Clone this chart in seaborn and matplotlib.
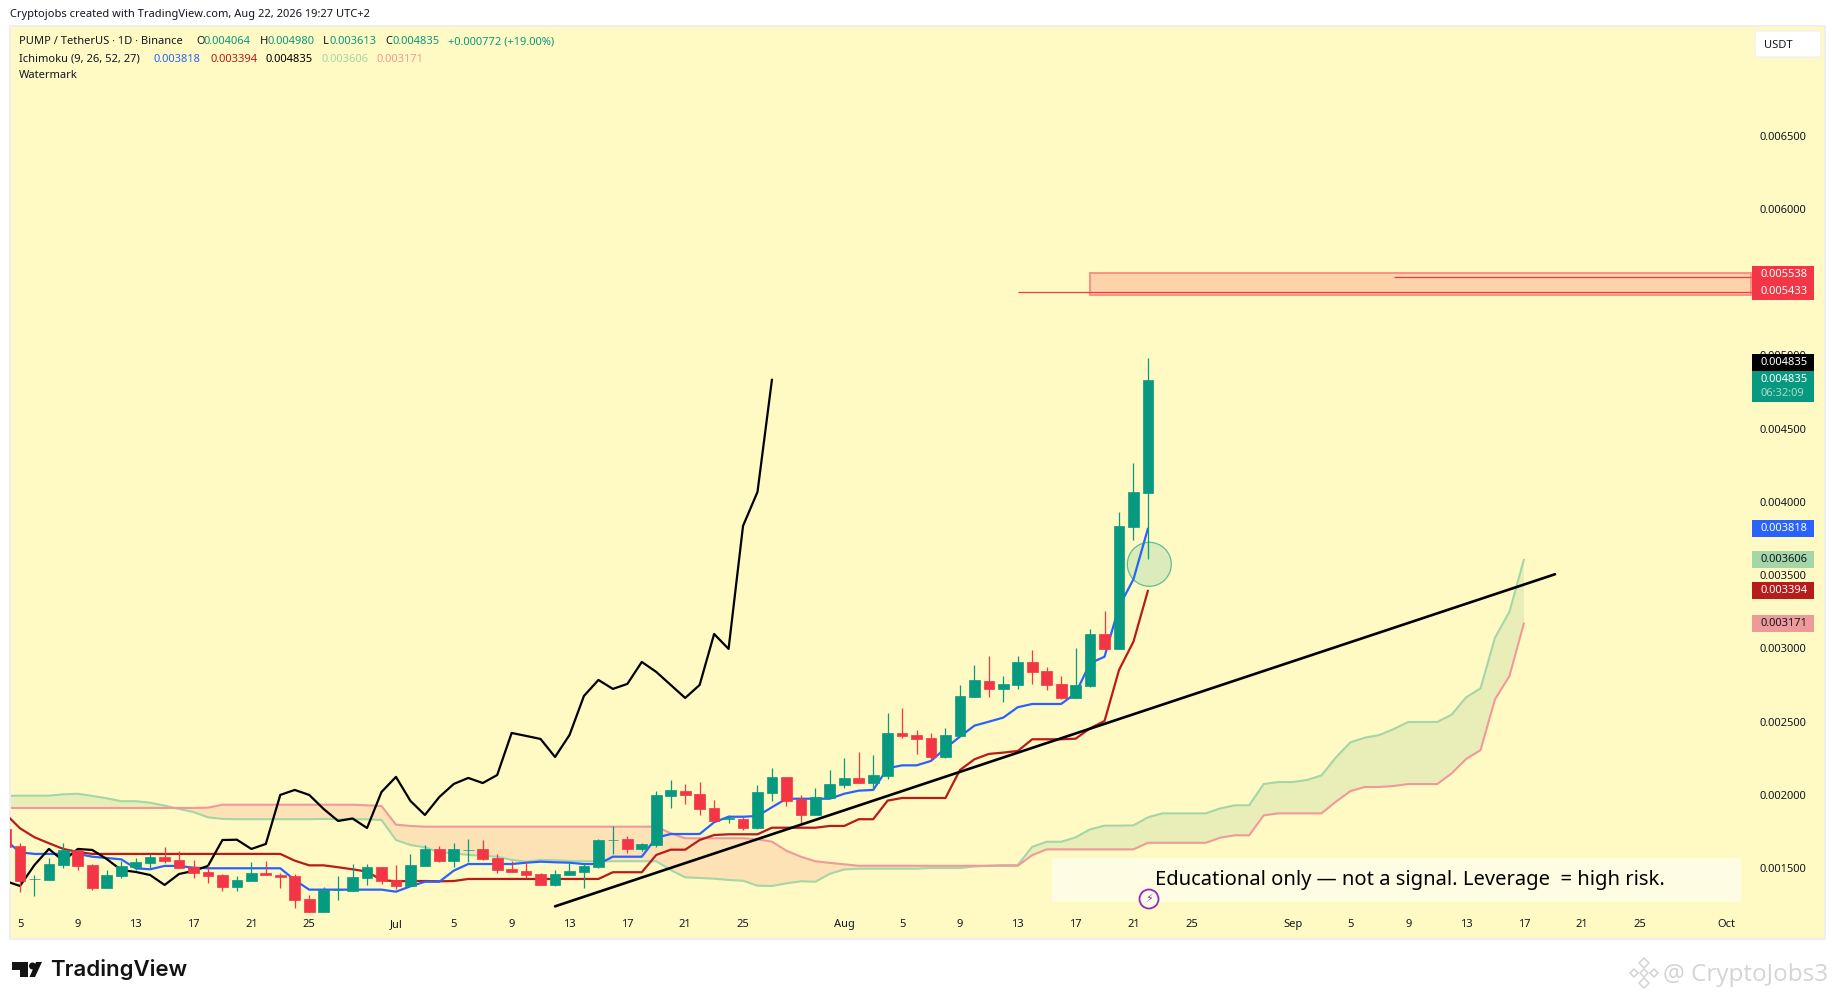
import numpy as np
import pandas as pd
import seaborn as sns
import matplotlib.pyplot as plt
import matplotlib.transforms as mtransforms
from matplotlib.patches import Rectangle, Circle, Polygon, FancyBboxPatch

# --- values (day 0 = Jun 5) ---
opens = [.001766, .00165, .001423, .001418, .00152, .001623, .00152, .001363, .001445, .001507,
         .001534, .001575, .001555, .001507, .001473, .001452, .00137, .001411, .001466, .001452,
         .001445, .001288, .0012, .00135, .001343, .001432, .001507, .001418, .001377, .001514,
         .00163, .001548, .00162, .00163, .001568, .001493, .00148, .001459, .001384, .001452,
         .001473, .001507, .00169, .001698, .00163, .001657, .001992, .002026, .002005, .00191,
         .001835, .001835, .001773, .002012, .002122, .001971, .001862, .001978, .002067, .002115,
         .00208, .002128, .002422, .002408, .002388, .002258, .002402, .002668, .002777, .002723,
         .00275, .002907, .002846, .002757, .002661, .002743, .003098, .002996, .003829, .004064]
highs = [.00177, .001669, .001452, .001568, .001669, .001623, .001527, .001486, .00155, .001568,
         .001596, .001643, .001616, .001555, .00152, .001459, .001445, .001541, .001548, .001466,
         .001456, .001316, .00137, .001445, .001527, .001527, .001507, .00152, .001596, .001657,
         .00165, .001671, .001698, .001691, .001596, .001548, .001541, .001466, .001486, .001534,
         .001534, .001698, .001787, .001719, .001671, .002026, .002101, .002074, .002087, .001964,
         .001862, .001845, .002067, .002183, .002122, .001999, .002046, .002169, .002251, .002292,
         .002272, .002559, .002593, .002443, .002422, .002456, .00275, .002887, .002948, .002811,
         .002948, .002989, .002873, .002811, .003003, .003132, .003255, .003931, .004266, .00498]
lows = [.00164, .001338, .001311, .001418, .001502, .001486, .00135, .001363, .001432, .001486,
        .0015, .001534, .0015, .001432, .001398, .001343, .001343, .001411, .001452, .001363,
        .001227, .0012, .0012, .001281, .001343, .001384, .00139, .001357, .001377, .001514,
        .001541, .001507, .001541, .001555, .001466, .00147, .001432, .001384, .001377, .001452,
        .001363, .0015, .001596, .001602, .001616, .001643, .00191, .001937, .001862, .001821,
        .001807, .00176, .001766, .001958, .001923, .0018, .001862, .001978, .002046, .00208,
        .002033, .002108, .002388, .002279, .00223, .002251, .002402, .002668, .002668, .002634,
        .002723, .002757, .002716, .002654, .002661, .002736, .002996, .002996, .00374, .003613]
closes = [.001645, .001413, .001426, .001527, .001623, .001514, .001363, .001452, .001514, .001541,
          .001575, .001548, .0015, .001466, .001445, .00137, .001418, .001466, .001452, .001439,
          .001281, .0012, .00135, .001353, .001439, .001507, .001411, .001377, .00152, .00163,
          .001548, .00163, .001623, .001561, .001486, .001473, .001452, .001384, .001459, .00148,
          .001514, .001691, .001693, .00163, .001664, .001999, .002033, .001999, .001903, .001821,
          .001838, .001773, .002019, .002122, .001958, .001862, .001985, .002074, .002115, .00208,
          .002135, .002422, .002402, .002381, .002258, .002408, .002675, .002784, .002723, .002757,
          .002907, .002839, .00275, .002661, .00275, .003098, .002996, .003836, .004068, .004835]

tenkan = [.001691, .001607, .001596, .001596, .001596, .001596, .001577, .001568, .001559, .001498,
          .001491, .001514, .001514, .001502, .001498, .001498, .001498, .001498, .001498, .001498,
          .001418, .001352, .001352, .001352, .001352, .001352, .001352, .001338, .001375, .001406,
          .001406, .001482, .001527, .001527, .001527, .001527, .001536, .001543, .001539, .001536,
          .001527, .001527, .001577, .001577, .001577, .001707, .001732, .001732, .001732, .001812,
          .00185, .00185, .001855, .001915, .001973, .001973, .001973, .001973, .002007, .002028,
          .002033, .002181, .002201, .002201, .002231, .002318, .002397, .002472, .002499, .002527,
          .002598, .00262, .00262, .00262, .002693, .002898, .002943, .003285, .003472, .003818]
kijun = [.001869, .001771, .00171, .001669, .00163, .001609, .001596, .001596, .001596, .001596,
         .001596, .001596, .001596, .001596, .001596, .001596, .001596, .001596, .001596, .001596,
         .00155, .001518, .001518, .001505, .001491, .001475, .001418, .001409, .001411, .001411,
         .001409, .001411, .001425, .001425, .001425, .001425, .001425, .001425, .001425, .001425,
         .001425, .001425, .001471, .001471, .001471, .001589, .001625, .001625, .001691, .001725,
         .00173, .00173, .00173, .001775, .001775, .001775, .001775, .001787, .001787, .001833,
         .001833, .00196, .001978, .001978, .001978, .001978, .002169, .002242, .002279, .002288,
         .002299, .002379, .002379, .002379, .002383, .002454, .002504, .002852, .003046, .003394]

senkou_a = [.001992, .001994, .001994, .001994, .002003, .002007, .001992, .001976, .001956, .001956,
            .001946, .001926, .001903, .001882, .001846, .001835, .001833, .001833, .001833, .001833,
            .001833, .001833, .001835, .001833, .001833, .001833, .001828, .001691, .001657, .001641,
            .001607, .0016, .001589, .001584, .001577, .001555, .001543, .001555, .001553, .001548,
            .001546, .001546, .001546, .001546, .001546, .001546, .001486, .001436, .001432, .001427,
            .001418, .001413, .001379, .001377, .001395, .001409, .001406, .00146, .00149, .001495,
            .001495, .001495, .001495, .001495, .0015, .0015, .0015, .00151, .001515, .00152,
            .00152, .001645, .001679, .001679, .001709, .001764, .001789, .001789, .001791, .001846,
            .001873, .001873, .001873, .001873, .001907, .001928, .001928, .002073, .002087, .002087,
            .002101, .002132, .002255, .002358, .00239, .002408, .002449, .002497, .002497, .002497,
            .002547, .002665, .002727, .003073, .00325, .003606]
senkou_b = [.00191, .00191, .00191, .00191, .00191, .00191, .00191, .00191, .00191, .00191,
            .00191, .00191, .00191, .00191, .001912, .001932, .001932, .001932, .001932, .001932,
            .001932, .001932, .001932, .001932, .001932, .001928, .001923, .001796, .001787, .001782,
            .001782, .001782, .001782, .001782, .001782, .001782, .001782, .001782, .001782, .001782,
            .001782, .001782, .001782, .001782, .001782, .001782, .001737, .001703, .001703, .001703,
            .001703, .001703, .001696, .00168, .001618, .001577, .001546, .001535, .001525, .001515,
            .001515, .001515, .001515, .001515, .001515, .001515, .001515, .001515, .001515, .001515,
            .001515, .001588, .001627, .001627, .001627, .001627, .001627, .001627, .001627, .001672,
            .001672, .001672, .001672, .001672, .001707, .001723, .001723, .001859, .001873, .001873,
            .001873, .001873, .001953, .002025, .002053, .002053, .00206, .002073, .002073, .002073,
            .002146, .002244, .002305, .002652, .002811, .003171]

price_ticks = [.0015, .002, .0025, .003, .0035, .004, .0045, .005, .0055, .006, .0065]
date_ticks = [0, 4, 8, 12, 16, 20, 26, 30, 34, 38, 42, 46, 50, 57, 61, 65, 69, 73, 77, 81, 88,
              92, 96, 100, 104, 108, 112, 118]
date_labels = ['5', '9', '13', '17', '21', '25', 'Jul', '5', '9', '13', '17', '21', '25', 'Aug',
               '5', '9', '13', '17', '21', '25', 'Sep', '5', '9', '13', '17', '21', '25', 'Oct']

trend_days = [37, 106.15]
trend_prices = [.001238, .003506]
zone_days = [74, 119.7]
zone_prices = [.00541, .005562]
level_high = .005538
level_low = .005433

BG = '#FFF9C4'
UP = '#089981'
DOWN = '#F23645'
INK = '#131722'
BLUE = '#2962FF'
DARKRED = '#B71C1C'
SPAN_A = '#A5D6A7'
SPAN_B = '#EF9A9A'

sns.set_theme(style='white')
plt.rcParams['font.family'] = ['Noto Sans', 'DejaVu Sans']

fig = plt.figure(figsize=(18.35, 10), dpi=100, facecolor='white')
# reference pixels for the frame around the chart (labels, logo, tags)
px = mtransforms.Affine2D().scale(1 / 1835, -1 / 1000).translate(0, 1) + fig.transFigure

ax = fig.add_axes([10 / 1835, 61 / 1000, 1815 / 1835, 913 / 1000], facecolor=BG)

days = np.arange(-1, 79)
cloud_days = np.arange(-1, 105)
candles = pd.DataFrame({'day': days, 'open': opens, 'high': highs, 'low': lows, 'close': closes})
candles['color'] = np.where(candles['close'] >= candles['open'], UP, DOWN)

# cloud
a = np.array(senkou_a)
b = np.array(senkou_b)
ax.fill_between(cloud_days, a, b, where=a >= b, interpolate=True, color='#E9EEB8', lw=0, zorder=1)
ax.fill_between(cloud_days, a, b, where=a <= b, interpolate=True, color='#FCE2B4', lw=0, zorder=1)
sns.lineplot(x=cloud_days, y=senkou_a, color=SPAN_A, linewidth=1.5, ax=ax, zorder=2)
sns.lineplot(x=cloud_days, y=senkou_b, color=SPAN_B, linewidth=1.5, ax=ax, zorder=2)

# conversion, base and lagging lines
sns.lineplot(x=days, y=kijun, color=DARKRED, linewidth=1.6, ax=ax, zorder=3)
sns.lineplot(x=days, y=tenkan, color=BLUE, linewidth=1.6, ax=ax, zorder=3)
lag = candles[candles['day'] >= 25]
sns.lineplot(x=lag['day'] - 26, y=lag['close'], color='black', linewidth=1.6, ax=ax, zorder=3)

# candles
ax.vlines(candles['day'], candles['low'], candles['high'], colors=candles['color'], lw=0.9, zorder=4)
ax.bar(candles['day'], (candles['close'] - candles['open']).abs(),
       bottom=candles[['open', 'close']].min(axis=1), width=0.74,
       color=candles['color'], edgecolor=candles['color'], linewidth=0.5, zorder=5)

# drawings
sns.lineplot(x=trend_days, y=trend_prices, color='black', linewidth=1.9, ax=ax, zorder=6)
ax.add_patch(Rectangle((zone_days[0], zone_prices[0]), zone_days[1] - zone_days[0],
                       zone_prices[1] - zone_prices[0], facecolor='#FDD4AA',
                       edgecolor='#FF8A80', lw=1.3, zorder=2))
ax.hlines(level_high, 95, zone_days[1], color=DOWN, lw=0.9, zorder=3)
ax.hlines(level_low, 69, zone_days[1], color=DOWN, lw=0.9, zorder=3)

ax.set_xlim(-0.69, 124.82)
ax.set_ylim(.001015, .00725)
ax.set_xlabel('')
ax.set_ylabel('')
ax.set_xticks(date_ticks)
ax.set_xticklabels(date_labels)
ax.yaxis.tick_right()
ax.set_yticks(price_ticks)
ax.set_yticklabels([f'{p:.6f}' for p in price_ticks])
ax.tick_params(axis='x', length=0, pad=-14.5, labelsize=8, labelcolor=INK)
ax.tick_params(axis='y', length=0, pad=-47, labelsize=8, labelcolor=INK)
for lab in ax.get_yticklabels():
    lab.set_ha('left')
for s in ax.spines.values():
    s.set_color('#EFEFEF')
    s.set_linewidth(1.5)


def put(x, y, s, size=8, color=INK, **kw):
    kw.setdefault('va', 'center')
    return fig.text(x, y, s, transform=px, fontsize=size, color=color, **kw)


def tag(top, bottom, color):
    fig.add_artist(Rectangle((1752, top), 62, bottom - top, transform=px, facecolor=color, lw=0, zorder=6))


# circle on the last candle and the note
fig.add_artist(Circle((1149.3, 564.3), 22, transform=px, facecolor=(8 / 255, 153 / 255, 129 / 255, 0.14),
                      edgecolor=(8 / 255, 153 / 255, 129 / 255, 0.6), lw=0.9, zorder=5))
fig.add_artist(Rectangle((1052, 858), 689, 44, transform=px, facecolor=(1, 1, 1, 0.55), lw=0, zorder=5))
put(1155, 880, 'Educational only — not a signal. Leverage  = high risk.', size=14.5, color='black', zorder=7)
fig.add_artist(Circle((1149, 899), 9.5, transform=px, facecolor='#FFFDF0', edgecolor='#9C27B0', lw=1.3, zorder=6))
put(1149, 899, '⚡', size=8, color='#9C27B0', ha='center', family='DejaVu Sans', zorder=7)

# price tags
tag(266, 300, DOWN)
put(1760, 274.5, '0.005538', color='white', zorder=7)
put(1760, 291.7, '0.005433', color='white', zorder=7)
tag(354, 371, 'black')
put(1760, 362.5, '0.004835', color='white', zorder=7)
tag(371, 402, UP)
put(1760, 379.5, '0.004835', color='white', zorder=7)
put(1760, 394, '06:32:09', color='#A8DBC9', zorder=7)
tag(520, 537, BLUE)
put(1760, 528.5, '0.003818', color='white', zorder=7)
tag(551, 568, SPAN_A)
put(1760, 559.5, '0.003606', zorder=7)
tag(582, 599, DARKRED)
put(1760, 590.5, '0.003394', color='white', zorder=7)
tag(615, 632, SPAN_B)
put(1760, 623.5, '0.003171', zorder=7)

# USDT button
fig.add_artist(FancyBboxPatch((1758, 34), 60, 20, boxstyle='round,pad=3,rounding_size=3', transform=px,
                              facecolor='white', edgecolor='#EFEFEF', lw=0.8, zorder=6))
put(1764, 45, 'USDT', zorder=7)

# header and legend
put(10, 15, 'Cryptojobs created with TradingView.com, Aug 22, 2026 19:27 UTC+2')
put(18.6, 41.7, 'PUMP / TetherUS · 1D · Binance')
for lx, letter, vx, val in [(196.4, 'O', 203.6, '0.004064'), (259.7, 'H', 267, '0.004980'),
                            (323, 'L', 329, '0.003613'), (385, 'C', 392, '0.004835')]:
    put(lx, 41.7, letter)
    put(vx, 41.7, val, color=UP)
put(448, 41.7, '+0.000772 (+19.00%)', color=UP)
put(18.6, 59, 'Ichimoku (9, 26, 52, 27)')
for vx, val, col in [(153.8, '0.003818', BLUE), (210, '0.003394', DARKRED), (265.6, '0.004835', 'black'),
                     (321, '0.003606', SPAN_A), (376.7, '0.003171', SPAN_B)]:
    put(vx, 59, val, color=col)
put(18.6, 76, 'Watermark')

# footer logo
fig.add_artist(Polygon([(12, 962), (28, 962), (28, 977), (20, 977), (20, 970), (12, 970)], transform=px,
                       facecolor='#131313', lw=0))
fig.add_artist(Circle((32.5, 966), 3.5, transform=px, facecolor='#131313', lw=0))
fig.add_artist(Polygon([(36, 962), (42, 962), (35, 977), (29.5, 977)], transform=px, facecolor='#131313', lw=0))
put(50, 969.5, 'TradingView', size=16, color='#131313', family='Inter', weight='semibold')

# site watermark
gray = '#D4D4D4'
for cx, cy, r in [(1644, 963, 5), (1644, 983, 5), (1634, 973, 4), (1654, 973, 4), (1644, 973, 4)]:
    fig.add_artist(Polygon([(cx, cy - r), (cx + r, cy), (cx, cy + r), (cx - r, cy)], transform=px,
                           facecolor='white', edgecolor=gray, lw=1.1))
put(1663, 975, '@ CryptoJobs3', size=17.5, color=gray, family='Open Sans')

fig.savefig('out.png', dpi=100, facecolor='white')
